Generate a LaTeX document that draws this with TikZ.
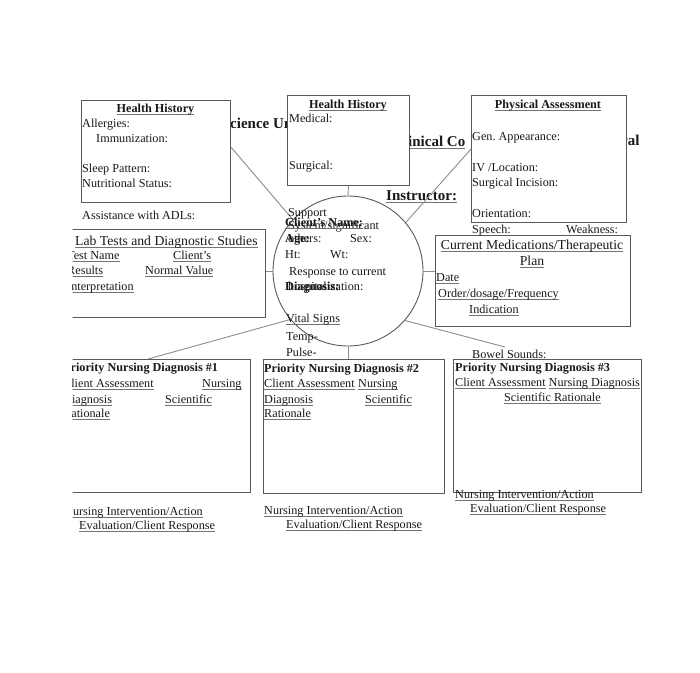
\documentclass[tikz,border=0pt]{standalone}
\usepackage{fontspec}
\setmainfont{Liberation Serif}
\frenchspacing
\newcommand\uln[1]{\setbox0\hbox{#1}\rlap{\color{black!55}\rule[-2.2pt]{\wd0}{0.6pt}}\box0\relax}
\tikzset{
  txt/.style={anchor=base west, inner sep=0pt, text=black!90, font=\fontsize{12.2}{14}\selectfont},
  bt/.style={txt, font=\fontsize{12.2}{14}\selectfont\bfseries},
  big/.style={txt, font=\fontsize{15}{17}\selectfont\bfseries},
  ttl/.style={txt, font=\fontsize{13.7}{16}\selectfont},
  box/.style={draw=black!65, line width=0.9pt, fill=white},
  conn/.style={draw=black!45, line width=0.9pt},
}
\begin{document}
\begin{tikzpicture}[x=1pt,y=-1pt]
\path[use as bounding box, fill=white] (0,0) rectangle (700,672);
\begin{scope}
\clip (72.5,0) rectangle (700,672);
% background titles
\node[big] (t1) at (230,128) {cience Ur};
\node[big] (t2) at (408,146) {\uln{inical Co}};
\node[big] (t3) at (621,145) {ral};
\node[big] (t4) at (386,200) {\uln{Instructor:}};
% boxes
\node[box, minimum width=149pt, minimum height=102pt, anchor=north west, inner sep=0] (hh1) at (81,100) {};
\node[box, minimum width=122pt, minimum height=90pt, anchor=north west, inner sep=0] (hh2) at (287,95) {};
\node[box, minimum width=155pt, minimum height=127pt, anchor=north west, inner sep=0] (pa) at (471,95) {};
\node[box, minimum width=205pt, minimum height=88pt, anchor=north west, inner sep=0] (lab) at (60,229) {};
\node[box, minimum width=195pt, minimum height=91pt, anchor=north west, inner sep=0] (med) at (435,235) {};
\node[box, minimum width=190pt, minimum height=133pt, anchor=north west, inner sep=0] (nd1) at (60,359) {};
\node[box, minimum width=181pt, minimum height=134pt, anchor=north west, inner sep=0] (nd2) at (263,359) {};
\node[box, minimum width=188pt, minimum height=133pt, anchor=north west, inner sep=0] (nd3) at (453,359) {};
\node[circle, draw=black!65, line width=0.9pt, fill=white, minimum size=150pt, inner sep=0] (circ) at (348,271) {};
% connectors
\coordinate (e3) at (505,347);
\coordinate (e0) at (148,359);
\draw[conn] (hh1.east |- 0,147) -- (circ.137);
\draw[conn] (pa.west |- 0,149) -- (circ.40);
\draw[conn] (hh2.south) -- (circ.north);
\draw[conn] (lab.east |- circ.west) -- (circ.west);
\draw[conn] (circ.east) -- (med.west |- circ.east);
\draw[conn] (circ.220) -- (e0);
\draw[conn] (circ.south) -- (nd2.north -| circ.south);
\draw[conn] (circ.319) -- (e3);
% HH1
\node[bt, anchor=base] (a1) at (155.5,112) {\uln{Health History}};
\node[txt] (a2) at (82,127) {Allergies:};
\node[txt] (a3) at (96,142) {Immunization:};
\node[txt] (a4) at (82,172) {Sleep Pattern:};
\node[txt] (a5) at (82,187) {Nutritional Status:};
\node[txt] (a6) at (82,219) {Assistance with ADLs:};
% HH2
\node[bt, anchor=base] (b1) at (348,108) {\uln{Health History}};
\node[txt] (b2) at (289,122) {Medical:};
\node[txt] (b3) at (289,169) {Surgical:};
% PA
\node[bt, anchor=base] (c1) at (548,108) {\uln{Physical Assessment}};
\node[txt] (c2) at (472,140) {Gen. Appearance:};
\node[txt] (c3) at (472,171) {IV /Location:};
\node[txt] (c4) at (472,186) {Surgical Incision:};
\node[txt] (c5) at (472,217) {Orientation:};
\node[txt] (c6) at (472,233) {Speech:};
\node[txt] (c7) at (566,233) {Weakness:};
% Lab
\node[ttl] (d1) at (75,245) {\uln{Lab Tests and Diagnostic Studies}};
\node[txt] (d2) at (67,259) {\uln{Test Name}};
\node[txt] (d3) at (173,259) {\uln{Client's}};
\node[txt] (d4) at (67,274) {\uln{Results}};
\node[txt] (d5) at (145,274) {\uln{Normal Value}};
\node[txt] (d6) at (67,290) {\uln{Interpretation}};
% circle texts
\node[txt] (e1) at (288,216) {Support};
\node[txt] (e2) at (288,229) {System/significant};
\node[txt] (e4) at (288,242) {others:};
\node[bt] (e5) at (285,226) {\uln{Client's Name:}};
\node[bt] (e6) at (285,242) {Age:};
\node[txt] (e7) at (350,242) {Sex:};
\node[txt] (e8) at (285,258) {Ht:};
\node[txt] (e9) at (330,258) {Wt:};
\node[txt] (e10) at (289,275) {Response to current};
\node[txt] (e11) at (288,290) {hospitalization:};
\node[bt] (e12) at (285,290) {Diagnosis:};
\node[txt] (e13) at (286,322) {\uln{Vital Signs}};
\node[txt] (e14) at (286,340) {Temp-};
\node[txt] (e15) at (286,356) {Pulse-};
% Meds
\node[ttl, anchor=base] (f1) at (532,249) {\uln{Current Medications/Therapeutic}};
\node[ttl, anchor=base] (f2) at (532,265) {\uln{Plan}};
\node[txt] (f3) at (436,281) {\uln{Date}};
\node[txt] (f4) at (438,297) {\uln{Order/dosage/Frequency}};
\node[txt] (f5) at (469,313) {\uln{Indication}};
% ND1
\node[bt] (g1) at (63,371) {Priority Nursing Diagnosis \#1};
\node[txt] (g2) at (63,387) {\uln{Client Assessment}};
\node[txt] (g3) at (202,387) {\uln{Nursing}};
\node[txt] (g4) at (63,403) {\uln{Diagnosis}};
\node[txt] (g5) at (165,403) {\uln{Scientific}};
\node[txt] (g6) at (63,417) {\uln{Rationale}};
\node[txt] (g7) at (64,515) {\uln{Nursing Intervention/Action}};
\node[txt] (g8) at (79,529) {\uln{Evaluation/Client Response}};
% ND2
\node[bt] (h1) at (264,372) {Priority Nursing Diagnosis \#2};
\node[txt] (h2) at (264,387) {\uln{Client Assessment}};
\node[txt] (h3) at (358,387) {\uln{Nursing}};
\node[txt] (h4) at (264,403) {\uln{Diagnosis}};
\node[txt] (h5) at (365,403) {\uln{Scientific}};
\node[txt] (h6) at (264,417) {\uln{Rationale}};
\node[txt] (h7) at (264,514) {\uln{Nursing Intervention/Action}};
\node[txt] (h8) at (286,528) {\uln{Evaluation/Client Response}};
% ND3
\node[txt] (i0) at (472,358) {Bowel Sounds:};
\node[bt] (i1) at (455,371) {Priority Nursing Diagnosis \#3};
\node[txt] (i2) at (455,386) {\uln{Client Assessment} \uln{Nursing Diagnosis}};
\node[txt] (i3) at (504,401) {\uln{Scientific Rationale}};
\node[txt] (i4) at (455,498) {\uln{Nursing Intervention/Action}};
\node[txt] (i5) at (470,512) {\uln{Evaluation/Client Response}};
\end{scope}
\end{tikzpicture}
\end{document}
